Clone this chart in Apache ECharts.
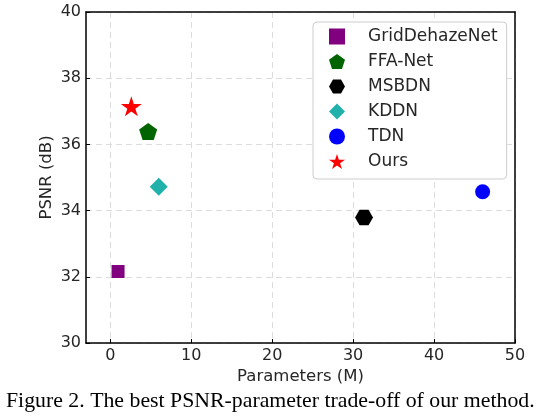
<!DOCTYPE html>
<html>
<head>
<meta charset="utf-8">
<script src="https://cdn.jsdelivr.net/npm/echarts@6/dist/echarts.min.js"></script>
<style>
html,body{margin:0;padding:0;background:#fff;}
#chart{width:554px;height:420px;}
</style>
</head>
<body>
<div id="chart"></div>
<script>
var methods = ['GridDehazeNet', 'FFA-Net', 'MSBDN', 'KDDN', 'TDN', 'Ours'];
var params = [0.96, 4.68, 31.35, 5.99, 46.0, 2.6];
var psnr = [32.16, 36.39, 33.79, 34.72, 34.57, 37.15];
var colors = ['#800080', '#006400', '#000000', '#20B2AA', '#0000FF', '#FF0000'];
var xTicks = [0, 10, 20, 30, 40, 50];
var yTicks = [30, 32, 34, 36, 38, 40];

var STAR = 'path://M0,-1L0.2245,-0.309L0.951,-0.309L0.363,0.118L0.588,0.809L0,0.382L-0.588,0.809L-0.363,0.118L-0.951,-0.309L-0.2245,-0.309Z';
var PENT = 'path://M0,-1L0.951,-0.309L0.588,0.809L-0.588,0.809L-0.951,-0.309Z';
var HEX = 'path://M1,0L0.5,0.866L-0.5,0.866L-1,0L-0.5,-0.866L0.5,-0.866Z';
var symbols = ['rect', PENT, HEX, 'diamond', 'circle', STAR];
var sizes = [[13, 13], [18, 17], [18, 15.6], [18, 18], [15, 15], [21, 20]];

var series = methods.map(function (m, i) {
  return {
    name: m,
    type: 'scatter',
    symbol: symbols[i],
    symbolSize: sizes[i],
    itemStyle: { color: colors[i], opacity: 1 },
    data: [[params[i], psnr[i]]],
    z: 3
  };
});

var font = 'DejaVu Sans';
var gridLine = { show: true, lineStyle: { color: '#dcdcdc', type: [6, 4], width: 1 } };
var black = { show: true, onZero: false, lineStyle: { color: '#000', width: 1.5 } };
var chart = echarts.init(document.getElementById('chart'), null, { renderer: 'canvas' });
chart.setOption({
  animation: false,
  backgroundColor: '#fff',
  title: {
    text: 'Figure 2. The best PSNR-parameter trade-off of our method.',
    left: 1,
    top: 385,
    textStyle: { fontFamily: 'Liberation Serif', fontSize: 21.8, fontWeight: 'normal', color: '#000' }
  },
  grid: { left: 86, right: 39, top: 12, bottom: 77 },
  legend: {
    data: methods.map(function (m, i) { return { name: m, icon: symbols[i] }; }),
    orient: 'vertical',
    left: 313,
    top: 22,
    padding: [6, 9, 9, 16],
    itemGap: 8,
    itemWidth: 16,
    itemHeight: 16,
    borderColor: '#cccccc',
    borderWidth: 1,
    borderRadius: 4,
    backgroundColor: '#fff',
    textStyle: { fontFamily: font, fontSize: 17, color: '#262626', padding: [0, 0, 0, 18] }
  },
  xAxis: [{
    type: 'value',
    min: -3,
    max: 50,
    name: 'Parameters (M)',
    nameLocation: 'middle',
    nameGap: 25,
    nameMoveOverlap: false,
    nameTextStyle: { fontFamily: font, fontSize: 16.5, color: '#262626' },
    axisLine: black,
    axisTick: { show: true, inside: true, length: 4, customValues: xTicks, lineStyle: { color: '#000' } },
    axisLabel: { customValues: xTicks, fontFamily: font, fontSize: 16, color: '#262626', margin: 5 },
    splitLine: gridLine
  }, {
    type: 'value',
    position: 'top',
    min: -3,
    max: 50,
    axisLine: black,
    axisTick: { show: false },
    axisLabel: { show: false },
    splitLine: { show: false }
  }],
  yAxis: [{
    type: 'value',
    min: 30,
    max: 40,
    interval: 2,
    name: 'PSNR (dB)',
    nameLocation: 'middle',
    nameGap: 31,
    nameMoveOverlap: false,
    nameTextStyle: { fontFamily: font, fontSize: 16.5, color: '#262626' },
    axisLine: black,
    axisTick: { show: true, inside: true, length: 4, lineStyle: { color: '#000' } },
    axisLabel: { fontFamily: font, fontSize: 16, color: '#262626', margin: 5 },
    splitLine: gridLine
  }, {
    type: 'value',
    position: 'right',
    min: 30,
    max: 40,
    interval: 2,
    axisLine: black,
    axisTick: { show: false },
    axisLabel: { show: false },
    splitLine: { show: false }
  }],
  series: series
});
</script>
</body>
</html>
